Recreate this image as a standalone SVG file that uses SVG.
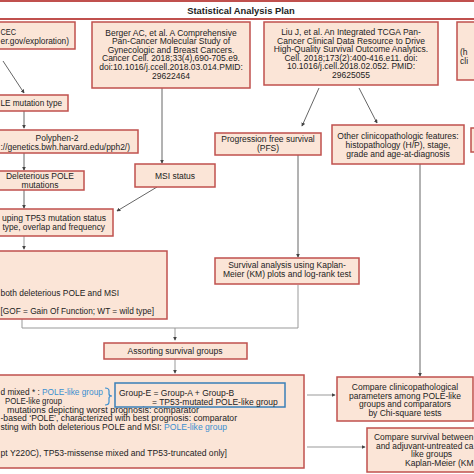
<svg xmlns="http://www.w3.org/2000/svg" width="474" height="474" viewBox="0 0 474 474">
<style>
.bx{fill:#fbe5d7;stroke:#c0504d;stroke-width:1.5}
.t{font-family:"Liberation Sans",Arial,sans-serif;font-size:8.5px;fill:#222}
.c{text-anchor:middle}
.bl{fill:#3a8fd0}
.ln{fill:none;stroke:#666;stroke-width:1}
.lg{fill:none;stroke:#999;stroke-width:1}
</style>
<defs>
<marker id="ah" viewBox="0 0 6 6" refX="5" refY="3" markerWidth="4" markerHeight="4" orient="auto"><path d="M0,0L6,3L0,6z" fill="#444"/></marker>
</defs>
<rect width="474" height="474" fill="#fff"/>
<g id="title">
<line x1="0" y1="1" x2="474" y2="1" stroke="#c0504d" stroke-width="2"/>
<line x1="0" y1="19" x2="474" y2="19" stroke="#c0504d" stroke-width="2"/>
<text x="241" y="13.5" class="t c" style="font-weight:bold;font-size:9.4px">Statistical Analysis Plan</text>
</g>
<g id="connectors">
<path class="ln" d="M3,61L24,93" marker-end="url(#ah)"/>
<path class="ln" d="M24,111V128" marker-end="url(#ah)"/>
<path class="ln" d="M24,153V170" marker-end="url(#ah)"/>
<path class="ln" d="M24,190V208" marker-end="url(#ah)"/>
<path class="ln" d="M162,88V163" marker-end="url(#ah)"/>
<path class="ln" d="M157,187L117,211" marker-end="url(#ah)"/>
<path class="lg" d="M24,236V249" marker-end="url(#ah)"/>
<path class="ln" d="M319,88L302,126" marker-end="url(#ah)"/>
<path class="ln" d="M359,88L377,123" marker-end="url(#ah)"/>
<path class="ln" d="M298,155V257" marker-end="url(#ah)"/>
<path class="lg" d="M22,319V328H298V285"/>
<path class="lg" d="M175,328V340" marker-end="url(#ah)"/>
<path class="lg" d="M175,359V373" marker-end="url(#ah)"/>
<path class="ln" d="M420,164V376" marker-end="url(#ah)"/>
<path class="lg" d="M307,395H335" marker-end="url(#ah)"/>
<path class="lg" d="M307,447H365" marker-end="url(#ah)"/>
</g>
<g id="n1"><rect class="bx" x="-10" y="22" width="85" height="27"/>
<text class="t" x="0.5" y="34.5" textLength="15.5" lengthAdjust="spacingAndGlyphs">CEC</text>
<text class="t" x="0.5" y="43.5" textLength="68.5" lengthAdjust="spacingAndGlyphs">er.gov/exploration)</text></g>
<g id="n2"><rect class="bx" x="92" y="22" width="158" height="66"/>
<text class="t c" x="171" y="35.5">Berger AC, et al. A Comprehensive</text>
<text class="t c" x="171" y="44">Pan-Cancer Molecular Study of</text>
<text class="t c" x="171" y="52.5">Gynecologic and Breast Cancers.</text>
<text class="t c" x="171" y="61">Cancer Cell. 2018;33(4),690-705.e9.</text>
<text class="t c" x="171" y="69.5">doi:10.1016/j.ccell.2018.03.014.PMID:</text>
<text class="t c" x="171" y="78.5">29622464</text></g>
<g id="n3"><rect class="bx" x="264" y="22" width="174" height="63"/>
<text class="t c" x="351" y="35">Liu J, et al. An Integrated TCGA Pan-</text>
<text class="t c" x="351" y="43.5">Cancer Clinical Data Resource to Drive</text>
<text class="t c" x="351" y="52">High-Quality Survival Outcome Analytics.</text>
<text class="t c" x="351" y="60.5">Cell. 2018;173(2):400-416.e11.  doi:</text>
<text class="t c" x="351" y="69">10.1016/j.cell.2018.02.052.  PMID:</text>
<text class="t c" x="351" y="78">29625055</text></g>
<g id="n4"><rect class="bx" x="457" y="22" width="30" height="58"/>
<text class="t" x="460" y="54.5">(h</text><text class="t" x="460" y="63.5">cli</text></g>
<g id="n5"><rect class="bx" x="-10" y="95" width="78" height="16"/>
<text class="t" x="0.5" y="106" textLength="61.5" lengthAdjust="spacingAndGlyphs">LE mutation type</text></g>
<g id="n6"><rect class="bx" x="-24" y="130" width="162" height="23"/>
<text class="t c" x="57" y="141">Polyphen-2</text>
<text class="t" x="0.5" y="150" textLength="129.5" lengthAdjust="spacingAndGlyphs">://genetics.bwh.harvard.edu/pph2/)</text></g>
<g id="n7"><rect class="bx" x="-2" y="171" width="86" height="19"/>
<text class="t c" x="40" y="179">Deleterious POLE</text>
<text class="t c" x="40" y="187.5">mutations</text></g>
<g id="n8"><rect class="bx" x="135" y="164" width="80" height="23"/>
<text class="t c" x="175" y="179">MSI status</text></g>
<g id="n9"><rect class="bx" x="-10" y="209" width="123" height="27"/>
<text class="t" x="2" y="221" textLength="104" lengthAdjust="spacingAndGlyphs">uping TP53 mutation status</text>
<text class="t" x="2.5" y="230" textLength="102.5" lengthAdjust="spacingAndGlyphs">type, overlap and frequency</text></g>
<g id="n10"><rect class="bx" x="215" y="133" width="106" height="22"/>
<text class="t c" x="268" y="142">Progression free survival</text>
<text class="t c" x="268" y="151">(PFS)</text></g>
<g id="n11"><rect class="bx" x="332" y="125" width="132" height="39"/>
<text class="t c" x="398" y="139">Other clinicopathologic features:</text>
<text class="t c" x="398" y="148">histopathology (H/P), stage,</text>
<text class="t c" x="398" y="156.5">grade and age-at-diagnosis</text></g>
<g id="n12"><rect class="bx" x="471" y="128" width="10" height="24"/></g>
<g id="n13"><rect class="bx" x="-10" y="251" width="177" height="68"/>
<text class="t" x="0.5" y="296" textLength="118.5" lengthAdjust="spacingAndGlyphs">both deleterious POLE and MSI</text>
<text class="t" x="0.5" y="314" textLength="153.5" lengthAdjust="spacingAndGlyphs">[GOF = Gain Of Function; WT = wild type]</text></g>
<g id="n14"><rect class="bx" x="215" y="258" width="144" height="26"/>
<text class="t c" x="287" y="268">Survival analysis using Kaplan-</text>
<text class="t c" x="287" y="277">Meier (KM) plots and log-rank test</text></g>
<g id="n15"><rect class="bx" x="104" y="343" width="143" height="16"/>
<text class="t c" x="175" y="354">Assorting survival groups</text></g>
<g id="n16"><rect class="bx" x="-10" y="375" width="314" height="93"/>
<text class="t" x="0.5" y="395" textLength="102.5" lengthAdjust="spacingAndGlyphs">d mixed * : <tspan class="bl">POLE-like group</tspan></text>
<text class="t" x="5" y="404" textLength="57" lengthAdjust="spacingAndGlyphs">POLE-like group</text>
<text class="t" x="7" y="412.5" textLength="192" lengthAdjust="spacingAndGlyphs">mutations depicting worst prognosis: comparator</text>
<text class="t" x="0.5" y="421" textLength="236.5" lengthAdjust="spacingAndGlyphs">-based ‘POLE’, characterized with best prognosis: comparator</text>
<text class="t" x="0.5" y="430" textLength="226.5" lengthAdjust="spacingAndGlyphs">sting with both deleterious POLE and MSI: <tspan class="bl">POLE-like group</tspan></text>
<text class="t" x="0.5" y="456" textLength="226.5" lengthAdjust="spacingAndGlyphs">pt Y220C), TP53-missense mixed and TP53-truncated only]</text>
<path d="M105,388Q109,388 109,391V394Q109,396 112,396Q109,396 109,398V402Q109,405 105,405" fill="none" stroke="#3a8fd0" stroke-width="1.2"/>
<rect x="115" y="383" width="170" height="24" fill="none" stroke="#3a7fb8" stroke-width="1.5"/>
<text class="t" x="119" y="396">Group-E = Group-A + Group-B</text>
<text class="t" x="152" y="404.5">= TP53-mutated POLE-like group</text></g>
<g id="n17"><rect class="bx" x="337" y="377" width="136" height="44"/>
<text class="t c" x="405" y="390">Compare clinicopathological</text>
<text class="t c" x="405" y="398.5">parameters among POLE-like</text>
<text class="t c" x="405" y="407">groups and comparators</text>
<text class="t c" x="405" y="415.5">by Chi-square tests</text></g>
<g id="n18"><rect class="bx" x="367" y="428" width="120" height="44"/>
<text class="t" x="374" y="440" textLength="99.5" lengthAdjust="spacingAndGlyphs">Compare survival between</text>
<text class="t" x="376" y="448.5" textLength="97.5" lengthAdjust="spacingAndGlyphs">and adjuvant-untreated ca</text>
<text class="t" x="411" y="457">like groups</text>
<text class="t" x="405" y="465.5" textLength="68.5" lengthAdjust="spacingAndGlyphs">Kaplan-Meier (KM</text></g>
</svg>
